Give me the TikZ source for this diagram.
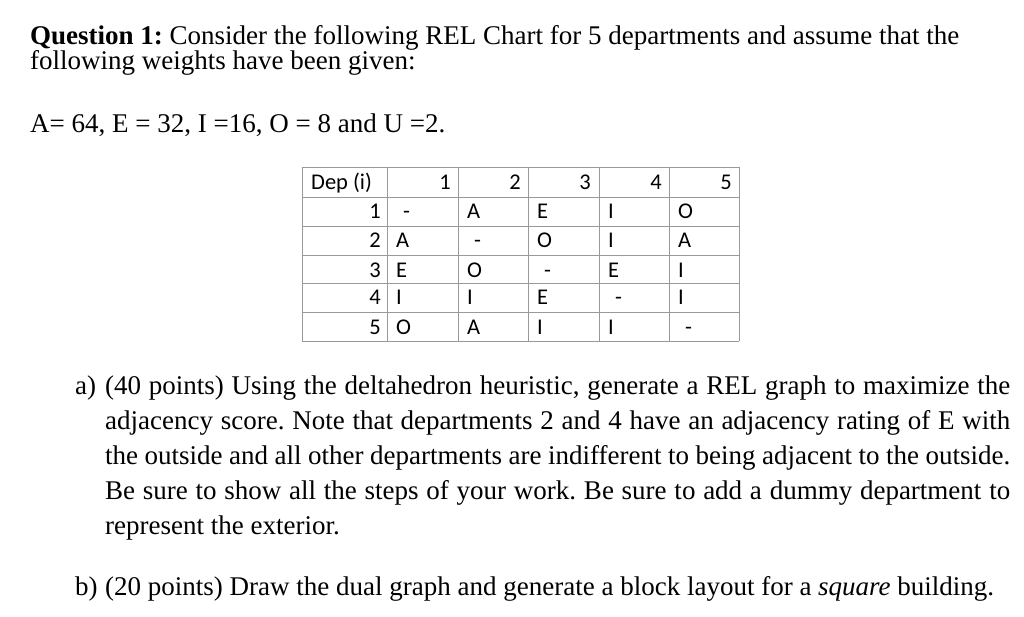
\documentclass[tikz,border=0pt]{standalone}
\usepackage{fontspec}
\setmainfont{Liberation Serif}
\newfontfamily\cellfont{Carlito}
\frenchspacing
\begin{document}
\begin{tikzpicture}[x=1pt,y=-1pt,
  txt/.style={anchor=base west,inner sep=0pt,font=\fontsize{27}{35}\selectfont},
  cell/.style={anchor=base west,inner sep=0pt,font=\cellfont\fontsize{22.5}{20}\selectfont},
  cellr/.style={anchor=base east,inner sep=0pt,font=\cellfont\fontsize{22.5}{20}\selectfont},
  grid/.style={draw=gray!80,line width=0.9pt}]
\useasboundingbox (0,0) rectangle (1024,617);
\node[txt] (q1) at (30,45) {\textbf{Question 1:} Consider the following REL Chart for 5 departments and assume that the};
\node[txt] (q2) at (30,70) {following weights have been given:};
\node[txt] (w) at (30,133) {A= 64, E = 32, I =16, O = 8 and U =2.};
% table
\foreach \x in {302,387,458,528,599,669,739} \draw[grid] (\x,167) -- (\x,341);
\foreach \y in {167,197,226,255,283,312,341} \draw[grid] (302,\y) -- (739,\y);
\node[cell] (h0) at (311,190) {Dep (i)};
\node[cellr] (h1) at (451,190) {1};
\node[cellr] (h2) at (521,190) {2};
\node[cellr] (h3) at (591,190) {3};
\node[cellr] (h4) at (662,190) {4};
\node[cellr] (h5) at (732,190) {5};
\foreach \r/\yy/\a/\b/\c/\d/\e in {1/219/-/A/E/I/O, 2/248/A/-/O/I/A, 3/277/E/O/-/E/I, 4/305/I/I/E/-/I, 5/334/O/A/I/I/-}{
  \node[cellr] (r\r) at (381,\yy) {\r};
  \foreach \v [count=\k] in {\a,\b,\c,\d,\e}{
    \pgfmathsetmacro{\xs}{{387,458,528,599,669}[\k-1]}
    \if\v-\node[cell] (c\r\k) at (\xs+16,\yy) {-};\else\node[cell] (c\r\k) at (\xs+9,\yy) {\v};\fi
  }
}
\node[txt] (al) at (75,394) {a)};
\node[txt,text width=905pt,align=justify] (a) at (105,394) {(40 points) Using the deltahedron heuristic, generate a REL graph to maximize the\linebreak adjacency score. Note that departments 2 and 4 have an adjacency rating of E with\linebreak the outside and all other departments are indifferent to being adjacent to the outside.\linebreak Be sure to show all the steps of your work. Be sure to add a dummy department to\linebreak represent the exterior.};
\node[txt] (bl) at (75,595) {b)};
\node[txt] (b) at (105,595) {(20 points) Draw the dual graph and generate a block layout for a \textit{square} building.};
\end{tikzpicture}
\end{document}
